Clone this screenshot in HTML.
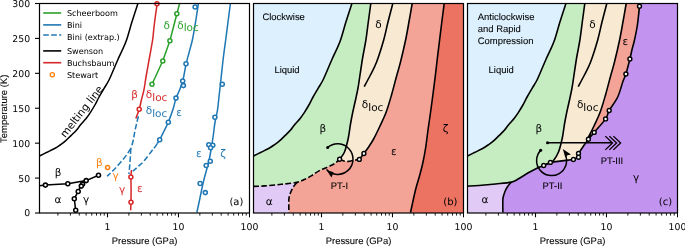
<!DOCTYPE html>
<html><head><meta charset="utf-8"><title>Nitrogen phase diagram</title>
<style>
html,body{margin:0;padding:0;background:#fff;overflow:hidden}
svg{display:block}
text{font-family:"DejaVu Sans","Liberation Sans",sans-serif;text-rendering:geometricPrecision}
.tk{font-size:9.3px}
.lg{font-size:8.1px}
.gk{font-size:10.5px}
.pl{font-size:10px}
.hv{font-family:"Liberation Sans",Arial,sans-serif;font-size:9.45px;stroke:#000;stroke-width:0.08px}
</style></head><body>
<svg width="685" height="246" viewBox="0 0 685 246">
<rect width="685" height="246" fill="#fff"/>
<line x1="35" y1="213" x2="39.5" y2="213" stroke="#000" stroke-width="1.1"/>
<text x="30.1" y="216.45" class="tk" text-anchor="end">0</text>
<line x1="35" y1="178.08" x2="39.5" y2="178.08" stroke="#000" stroke-width="1.1"/>
<text x="30.1" y="181.53" class="tk" text-anchor="end">50</text>
<line x1="35" y1="143.17" x2="39.5" y2="143.17" stroke="#000" stroke-width="1.1"/>
<text x="30.1" y="146.62" class="tk" text-anchor="end">100</text>
<line x1="35" y1="108.25" x2="39.5" y2="108.25" stroke="#000" stroke-width="1.1"/>
<text x="30.1" y="111.7" class="tk" text-anchor="end">150</text>
<line x1="35" y1="73.33" x2="39.5" y2="73.33" stroke="#000" stroke-width="1.1"/>
<text x="30.1" y="76.78" class="tk" text-anchor="end">200</text>
<line x1="35" y1="38.42" x2="39.5" y2="38.42" stroke="#000" stroke-width="1.1"/>
<text x="30.1" y="41.87" class="tk" text-anchor="end">250</text>
<line x1="35" y1="3.5" x2="39.5" y2="3.5" stroke="#000" stroke-width="1.1"/>
<text x="30.1" y="6.95" class="tk" text-anchor="end">300</text>
<text transform="translate(7.0,108.8) rotate(-90)" class="hv" text-anchor="middle">Temperature (K)</text>
<g class="lg">
<line x1="43.2" y1="13" x2="61.2" y2="13" stroke="#2ca02c" stroke-width="1.6"/>
<text x="66.9" y="16.3">Scheerboom</text>
<line x1="43.2" y1="24.9" x2="61.2" y2="24.9" stroke="#1f77b4" stroke-width="1.6"/>
<text x="66.9" y="28.3">Bini</text>
<line x1="43.2" y1="35" x2="61.2" y2="35" stroke="#1f77b4" stroke-width="1.6" stroke-dasharray="5.6,2.4"/>
<text x="66.9" y="39.7">Bini (extrap.)</text>
<line x1="43.2" y1="50.9" x2="61.2" y2="50.9" stroke="#000" stroke-width="1.6"/>
<text x="66.9" y="54.4">Swenson</text>
<line x1="43.2" y1="62.7" x2="61.2" y2="62.7" stroke="#d62728" stroke-width="1.6"/>
<text x="66.9" y="66.4">Buchsbaum</text>
<circle cx="52.3" cy="74.7" r="2.1" fill="#fff" stroke="#ff7f0e" stroke-width="1.3"/>
<text x="66.9" y="78.1">Stewart</text>
</g>
<g clip-path="url(#ca)">
<path d="M137.9,3.5 C136.9,6.58 133.88,15.67 131.9,22 C129.92,28.33 128.37,35.17 126,41.5 C123.63,47.83 120.45,53.75 117.7,60 C114.95,66.25 111.75,74.3 109.5,79 C107.25,83.7 105.98,85.12 104.2,88.2 C102.42,91.28 100.35,94.7 98.8,97.5 C97.25,100.3 96.32,102.48 94.9,105 C93.48,107.52 91.73,110.4 90.3,112.6 C88.87,114.8 87.98,116.08 86.3,118.2 C84.62,120.32 81.82,123.33 80.2,125.3 C78.58,127.27 78.13,128.28 76.6,130 C75.07,131.72 72.9,133.73 71,135.6 C69.1,137.47 67.03,139.63 65.2,141.2 C63.37,142.77 61.77,143.78 60,145 C58.23,146.22 56.77,147.28 54.6,148.5 C52.43,149.72 49.52,151.05 47,152.3 C44.48,153.55 40.75,155.38 39.5,156" fill="none" stroke="#000" stroke-width="1.52" stroke-linejoin="round"/>
<path d="M157.2,3.5 C156.9,5.58 155.95,11.92 155.4,16 C154.85,20.08 154.37,24 153.9,28 C153.43,32 153.35,35 152.6,40 C151.85,45 150.5,51.83 149.4,58 C148.3,64.17 146.9,71.72 146,77 C145.1,82.28 144.77,85.87 144,89.7 C143.23,93.53 142.17,96.83 141.4,100 C140.63,103.17 140.32,105.63 139.4,108.7 C138.48,111.77 136.48,116.78 135.9,118.4" fill="none" stroke="#d62728" stroke-width="1.52" stroke-linejoin="round"/>
<polyline points="131.4,170 130.9,177 131.1,190 131,202.2 130.7,210.3" fill="none" stroke="#d62728" stroke-width="1.52" stroke-linejoin="round"/>
<polyline points="179.6,3.5 176.9,13.7 169.9,40.8 162.7,61 152,84.3" fill="none" stroke="#2ca02c" stroke-width="1.52" stroke-linejoin="round"/>
<path d="M198.4,3.5 C197.98,6.25 196.87,14.08 195.9,20 C194.93,25.92 193.72,33.67 192.6,39 C191.48,44.33 190.27,47.92 189.2,52 C188.13,56.08 187.03,59.83 186.2,63.5 C185.37,67.17 184.78,71.08 184.2,74 C183.62,76.92 183.47,78.33 182.7,81 C181.93,83.67 180.72,87.15 179.6,90 C178.48,92.85 177.03,95.1 176,98.1 C174.97,101.1 174.68,103.98 173.4,108 C172.12,112.02 169.9,118.28 168.3,122.2 C166.7,126.12 165.23,128.57 163.8,131.5 C162.37,134.43 160.8,137.78 159.7,139.8 C158.6,141.82 157.62,142.97 157.2,143.6" fill="none" stroke="#1f77b4" stroke-width="1.52" stroke-linejoin="round"/>
<path d="M230.4,3.5 C230,6.58 228.77,16.08 228,22 C227.23,27.92 226.58,33 225.8,39 C225.02,45 224.07,51.67 223.3,58 C222.53,64.33 221.87,71 221.2,77 C220.53,83 219.92,88.5 219.3,94 C218.68,99.5 218.15,105.67 217.5,110 C216.85,114.33 215.95,117 215.4,120 C214.85,123 214.57,125.33 214.2,128 C213.83,130.67 213.73,132.33 213.2,136 C212.67,139.67 211.67,146.08 211,150 C210.33,153.92 209.85,156.5 209.2,159.5 C208.55,162.5 207.87,165.08 207.1,168 C206.33,170.92 205.33,174.2 204.6,177 C203.87,179.8 203.33,181.97 202.7,184.8 C202.07,187.63 201.47,190.8 200.8,194 C200.13,197.2 199.37,200.92 198.7,204 C198.03,207.08 197.12,211.08 196.8,212.5" fill="none" stroke="#1f77b4" stroke-width="1.52" stroke-linejoin="round"/>
<path d="M157.2,143.6 C156.8,144.2 155.72,145.97 154.8,147.2 C153.88,148.43 153.5,148.72 151.7,151 C149.9,153.28 146.2,158.37 144,160.9 C141.8,163.43 140.37,164.47 138.5,166.2 C136.63,167.93 133.75,170.45 132.8,171.3" fill="none" stroke="#1f77b4" stroke-width="1.52" stroke-dasharray="5.6,2.4" stroke-linejoin="round"/>
<path d="M138.4,116.2 C138.08,117.5 137.1,121.43 136.5,124 C135.9,126.57 135.33,128.93 134.8,131.6 C134.27,134.27 133.8,137.67 133.3,140 C132.8,142.33 132.22,144.2 131.8,145.6 C131.38,147 130.97,147.93 130.8,148.4" fill="none" stroke="#1f77b4" stroke-width="1.52" stroke-dasharray="5.6,2.4" stroke-linejoin="round"/>
<path d="M130.8,148.4 C130.08,149.5 128.3,152.57 126.5,155 C124.7,157.43 122.2,160.45 120,163 C117.8,165.55 115.45,168.08 113.3,170.3 C111.15,172.52 108.13,175.3 107.1,176.3" fill="none" stroke="#1f77b4" stroke-width="1.52" stroke-dasharray="5.6,2.4" stroke-linejoin="round"/>
<polyline points="130.8,148.4 130.3,158 129.4,169.3 128.9,174" fill="none" stroke="#1f77b4" stroke-width="1.52" stroke-dasharray="5.6,2.4" stroke-linejoin="round"/>
<polyline points="39.5,185.8 45.4,185.1 67.8,183.8 86.2,180.6 98.5,175.3" fill="none" stroke="#000" stroke-width="1.52" stroke-linejoin="round"/>
<polyline points="86.2,180.6 83.3,183 80.4,186.9 78.2,191.4 74.3,198.7 75.6,210.2 75.4,212.5" fill="none" stroke="#000" stroke-width="1.52" stroke-linejoin="round"/>
</g>
<circle cx="157" cy="3.8" r="2.0" fill="#fff" stroke="#d62728" stroke-width="1.55"/><circle cx="139.2" cy="109.2" r="2.0" fill="#fff" stroke="#d62728" stroke-width="1.55"/><circle cx="130.9" cy="177" r="2.0" fill="#fff" stroke="#d62728" stroke-width="1.55"/><circle cx="131" cy="202.2" r="2.0" fill="#fff" stroke="#d62728" stroke-width="1.55"/>
<circle cx="176.8" cy="13.7" r="2.0" fill="#fff" stroke="#2ca02c" stroke-width="1.55"/><circle cx="169.9" cy="40.7" r="2.0" fill="#fff" stroke="#2ca02c" stroke-width="1.55"/><circle cx="162.8" cy="60.9" r="2.0" fill="#fff" stroke="#2ca02c" stroke-width="1.55"/><circle cx="152" cy="84.3" r="2.0" fill="#fff" stroke="#2ca02c" stroke-width="1.55"/>
<circle cx="195.1" cy="7" r="2.0" fill="#fff" stroke="#1f77b4" stroke-width="1.55"/><circle cx="186" cy="63.7" r="2.0" fill="#fff" stroke="#1f77b4" stroke-width="1.55"/><circle cx="182.7" cy="81" r="2.0" fill="#fff" stroke="#1f77b4" stroke-width="1.55"/><circle cx="183.4" cy="85.6" r="2.0" fill="#fff" stroke="#1f77b4" stroke-width="1.55"/><circle cx="176" cy="98.1" r="2.0" fill="#fff" stroke="#1f77b4" stroke-width="1.55"/><circle cx="168.3" cy="122.3" r="2.0" fill="#fff" stroke="#1f77b4" stroke-width="1.55"/><circle cx="159.7" cy="139.8" r="2.0" fill="#fff" stroke="#1f77b4" stroke-width="1.55"/>
<circle cx="222.3" cy="84.3" r="2.0" fill="#fff" stroke="#1f77b4" stroke-width="1.55"/><circle cx="214.9" cy="117.3" r="2.0" fill="#fff" stroke="#1f77b4" stroke-width="1.55"/><circle cx="208.8" cy="144.8" r="2.0" fill="#fff" stroke="#1f77b4" stroke-width="1.55"/><circle cx="212.8" cy="145.2" r="2.0" fill="#fff" stroke="#1f77b4" stroke-width="1.55"/><circle cx="210.6" cy="147.7" r="2.0" fill="#fff" stroke="#1f77b4" stroke-width="1.55"/><circle cx="210.3" cy="161.3" r="2.0" fill="#fff" stroke="#1f77b4" stroke-width="1.55"/><circle cx="206.2" cy="165.4" r="2.0" fill="#fff" stroke="#1f77b4" stroke-width="1.55"/><circle cx="200.1" cy="183.4" r="2.0" fill="#fff" stroke="#1f77b4" stroke-width="1.55"/><circle cx="205.3" cy="192.6" r="2.0" fill="#fff" stroke="#1f77b4" stroke-width="1.55"/>
<circle cx="45.4" cy="185.1" r="2.0" fill="#fff" stroke="#000" stroke-width="1.55"/><circle cx="67.8" cy="183.8" r="2.0" fill="#fff" stroke="#000" stroke-width="1.55"/><circle cx="86.2" cy="180.6" r="2.0" fill="#fff" stroke="#000" stroke-width="1.55"/><circle cx="98.5" cy="175.3" r="2.0" fill="#fff" stroke="#000" stroke-width="1.55"/><circle cx="82.6" cy="184.1" r="2.0" fill="#fff" stroke="#000" stroke-width="1.55"/><circle cx="81.3" cy="186.1" r="2.0" fill="#fff" stroke="#000" stroke-width="1.55"/><circle cx="78.2" cy="191.4" r="2.0" fill="#fff" stroke="#000" stroke-width="1.55"/><circle cx="74.3" cy="198.7" r="2.0" fill="#fff" stroke="#000" stroke-width="1.55"/><circle cx="75.7" cy="210.2" r="2.0" fill="#fff" stroke="#000" stroke-width="1.55"/>
<circle cx="107.6" cy="167.4" r="2.0" fill="#fff" stroke="#ff7f0e" stroke-width="1.55"/>
<text x="163.6" y="28.8" class="gk" fill="#2ca02c">δ</text>
<text x="177.2" y="28.7" class="gk" fill="#2ca02c">δ<tspan dy="2.6">loc</tspan></text>
<text x="131.2" y="98" class="gk" fill="#d62728">β</text>
<text x="145.8" y="97.9" class="gk" fill="#d62728">δ<tspan dy="2.6">loc</tspan></text>
<text x="145.7" y="113.9" class="gk" fill="#1f77b4">δ<tspan dy="2.6">loc</tspan></text>
<text x="176.3" y="116.3" class="gk" fill="#1f77b4">ε</text>
<text x="195.9" y="156.7" class="gk" fill="#1f77b4">ε</text>
<text x="220.2" y="157.2" class="gk" fill="#1f77b4">ζ</text>
<text x="95.9" y="166.2" class="gk" fill="#ff7f0e">β</text>
<text x="112.6" y="179" class="gk" fill="#ff7f0e">γ</text>
<text x="54.8" y="176.3" class="gk" fill="#000">β</text>
<text x="54.6" y="202.9" class="gk" fill="#000">α</text>
<text x="82.9" y="203.4" class="gk" fill="#000">γ</text>
<text x="118.9" y="193.4" class="gk" fill="#d62728">γ</text>
<text x="137.1" y="192.3" class="gk" fill="#d62728">ε</text>
<text x="229.4" y="205.4" class="pl">(a)</text>
<text transform="translate(65.2,138.2) rotate(-52)" class="gk" style="font-size:10.5px">melting line</text>
<rect x="39.5" y="3.5" width="210" height="209.5" fill="none" stroke="#000" stroke-width="1.2"/>
<line x1="57.89" y1="213" x2="57.89" y2="215.6" stroke="#000" stroke-width="0.9"/><line x1="70.39" y1="213" x2="70.39" y2="215.6" stroke="#000" stroke-width="0.9"/><line x1="79.25" y1="213" x2="79.25" y2="215.6" stroke="#000" stroke-width="0.9"/><line x1="86.13" y1="213" x2="86.13" y2="215.6" stroke="#000" stroke-width="0.9"/><line x1="91.75" y1="213" x2="91.75" y2="215.6" stroke="#000" stroke-width="0.9"/><line x1="96.51" y1="213" x2="96.51" y2="215.6" stroke="#000" stroke-width="0.9"/><line x1="100.62" y1="213" x2="100.62" y2="215.6" stroke="#000" stroke-width="0.9"/><line x1="104.25" y1="213" x2="104.25" y2="215.6" stroke="#000" stroke-width="0.9"/><line x1="107.5" y1="213" x2="107.5" y2="217.3" stroke="#000" stroke-width="1.1"/><line x1="128.87" y1="213" x2="128.87" y2="215.6" stroke="#000" stroke-width="0.9"/><line x1="141.37" y1="213" x2="141.37" y2="215.6" stroke="#000" stroke-width="0.9"/><line x1="150.23" y1="213" x2="150.23" y2="215.6" stroke="#000" stroke-width="0.9"/><line x1="157.11" y1="213" x2="157.11" y2="215.6" stroke="#000" stroke-width="0.9"/><line x1="162.73" y1="213" x2="162.73" y2="215.6" stroke="#000" stroke-width="0.9"/><line x1="167.49" y1="213" x2="167.49" y2="215.6" stroke="#000" stroke-width="0.9"/><line x1="171.6" y1="213" x2="171.6" y2="215.6" stroke="#000" stroke-width="0.9"/><line x1="175.23" y1="213" x2="175.23" y2="215.6" stroke="#000" stroke-width="0.9"/><line x1="178.48" y1="213" x2="178.48" y2="217.3" stroke="#000" stroke-width="1.1"/><line x1="199.85" y1="213" x2="199.85" y2="215.6" stroke="#000" stroke-width="0.9"/><line x1="212.35" y1="213" x2="212.35" y2="215.6" stroke="#000" stroke-width="0.9"/><line x1="221.21" y1="213" x2="221.21" y2="215.6" stroke="#000" stroke-width="0.9"/><line x1="228.09" y1="213" x2="228.09" y2="215.6" stroke="#000" stroke-width="0.9"/><line x1="233.71" y1="213" x2="233.71" y2="215.6" stroke="#000" stroke-width="0.9"/><line x1="238.47" y1="213" x2="238.47" y2="215.6" stroke="#000" stroke-width="0.9"/><line x1="242.58" y1="213" x2="242.58" y2="215.6" stroke="#000" stroke-width="0.9"/><line x1="246.21" y1="213" x2="246.21" y2="215.6" stroke="#000" stroke-width="0.9"/><line x1="249.5" y1="213" x2="249.5" y2="217.3" stroke="#000" stroke-width="1"/>
<text x="107.5" y="230" class="tk" text-anchor="middle">1</text>
<text x="178.48" y="230" class="tk" text-anchor="middle">10</text>
<text x="249.46" y="230" class="tk" text-anchor="middle">100</text>
<text x="144.5" y="243.6" class="hv" text-anchor="middle">Pressure (GPa)</text>
<clipPath id="cb"><rect x="253.5" y="3.5" width="210" height="209.5"/></clipPath>
<g clip-path="url(#cb)">
<rect x="253.5" y="3.5" width="210" height="209.5" fill="#f4a397"/>
<path d="M444.2,3.5 C443.8,6.58 442.57,15.92 441.8,22 C441.03,28.08 440.33,34 439.6,40 C438.87,46 438.12,52 437.4,58 C436.68,64 436.03,70 435.3,76 C434.57,82 433.78,88 433,94 C432.22,100 431.43,106 430.6,112 C429.77,118 428.83,124 428,130 C427.17,136 426.47,142.5 425.6,148 C424.73,153.5 423.82,158.33 422.8,163 C421.78,167.67 420.72,171.5 419.5,176 C418.28,180.5 417,183.92 415.5,190 C414,196.08 411.33,208.75 410.5,212.5 L464.5,214 L464.5,2.5 Z" fill="#ec7261"/>
<path d="M370.8,2.5 L370.8,3.5 C370.38,6.58 369.12,15.92 368.3,22 C367.48,28.08 366.85,34 365.9,40 C364.95,46 363.63,51.83 362.6,58 C361.57,64.17 360.47,72 359.7,77 C358.93,82 358.7,84.17 358,88 C357.3,91.83 356.37,96 355.5,100 C354.63,104 353.63,108 352.8,112 C351.97,116 351.25,119.67 350.5,124 C349.75,128.33 349.3,133.33 348.3,138 C347.3,142.67 345.95,148.47 344.5,152 C343.05,155.53 340.42,158 339.6,159.2 L339.6,159.2 C340.33,159.5 342.52,160.63 344,161 C345.48,161.37 346.88,161.5 348.5,161.4 C350.12,161.3 351.9,160.73 353.7,160.4 C355.5,160.07 358.37,159.57 359.3,159.4 L363.9,153.5 L363.9,153.5 C364.63,152.5 366.68,149.92 368.3,147.5 C369.92,145.08 371.65,142.58 373.6,139 C375.55,135.42 377.9,130.5 380,126 C382.1,121.5 384.28,117.17 386.2,112 C388.12,106.83 389.77,101 391.5,95 C393.23,89 395.1,81.5 396.6,76 C398.1,70.5 399,68 400.5,62 C402,56 404.13,47 405.6,40 C407.07,33 408.2,26.08 409.3,20 C410.4,13.92 411.72,6.25 412.2,3.5 Z" fill="#f8e9d2"/>
<path d="M351.9,3.5 C350.9,6.58 347.88,15.67 345.9,22 C343.92,28.33 342.37,35.17 340,41.5 C337.63,47.83 334.45,53.75 331.7,60 C328.95,66.25 325.75,74.3 323.5,79 C321.25,83.7 319.98,85.12 318.2,88.2 C316.42,91.28 314.35,94.7 312.8,97.5 C311.25,100.3 310.32,102.48 308.9,105 C307.48,107.52 305.73,110.4 304.3,112.6 C302.87,114.8 301.98,116.08 300.3,118.2 C298.62,120.32 295.82,123.33 294.2,125.3 C292.58,127.27 292.13,128.28 290.6,130 C289.07,131.72 286.9,133.73 285,135.6 C283.1,137.47 281.03,139.63 279.2,141.2 C277.37,142.77 275.77,143.78 274,145 C272.23,146.22 270.77,147.28 268.6,148.5 C266.43,149.72 263.52,151.05 261,152.3 C258.48,153.55 254.75,155.38 253.5,156 L252.5,156 L252.5,186.4 L253.5,186.4 C255.42,186.32 260.32,186.25 265,185.9 C269.68,185.55 276.27,184.88 281.6,184.3 C286.93,183.72 293.1,183.25 297,182.4 C300.9,181.55 302.55,180.33 305,179.2 C307.45,178.07 309.3,177.03 311.7,175.6 C314.1,174.17 316.68,172.07 319.4,170.6 C322.12,169.13 325.45,167.98 328,166.8 C330.55,165.62 332.77,164.77 334.7,163.5 C336.63,162.23 338.78,159.92 339.6,159.2 L339.6,159.2 C340.42,158 343.05,155.53 344.5,152 C345.95,148.47 347.3,142.67 348.3,138 C349.3,133.33 349.75,128.33 350.5,124 C351.25,119.67 351.97,116 352.8,112 C353.63,108 354.63,104 355.5,100 C356.37,96 357.3,91.83 358,88 C358.7,84.17 358.93,82 359.7,77 C360.47,72 361.57,64.17 362.6,58 C363.63,51.83 364.95,46 365.9,40 C366.85,34 367.48,28.08 368.3,22 C369.12,15.92 370.38,6.58 370.8,3.5 L370.8,2.5 Z" fill="#c6ecc2"/>
<path d="M252.5,2.5 L351.9,2.5 L351.9,3.5 C350.9,6.58 347.88,15.67 345.9,22 C343.92,28.33 342.37,35.17 340,41.5 C337.63,47.83 334.45,53.75 331.7,60 C328.95,66.25 325.75,74.3 323.5,79 C321.25,83.7 319.98,85.12 318.2,88.2 C316.42,91.28 314.35,94.7 312.8,97.5 C311.25,100.3 310.32,102.48 308.9,105 C307.48,107.52 305.73,110.4 304.3,112.6 C302.87,114.8 301.98,116.08 300.3,118.2 C298.62,120.32 295.82,123.33 294.2,125.3 C292.58,127.27 292.13,128.28 290.6,130 C289.07,131.72 286.9,133.73 285,135.6 C283.1,137.47 281.03,139.63 279.2,141.2 C277.37,142.77 275.77,143.78 274,145 C272.23,146.22 270.77,147.28 268.6,148.5 C266.43,149.72 263.52,151.05 261,152.3 C258.48,153.55 254.75,155.38 253.5,156 L252.5,156 Z" fill="#dcf0fe"/>
<path d="M252.5,186.4 L253.5,186.4 C255.42,186.32 260.32,186.25 265,185.9 C269.68,185.55 276.27,184.88 281.6,184.3 C286.93,183.72 294.43,182.72 297,182.4 L293.3,187 C292.88,187.83 291.52,190.17 290.8,192 C290.08,193.83 289.33,196 289,198 C288.67,200 288.82,201.58 288.8,204 C288.78,206.42 288.88,211.08 288.9,212.5 L288.9,214 L252.5,214 Z" fill="#e2caf6"/>
<path d="M351.9,3.5 C350.9,6.58 347.88,15.67 345.9,22 C343.92,28.33 342.37,35.17 340,41.5 C337.63,47.83 334.45,53.75 331.7,60 C328.95,66.25 325.75,74.3 323.5,79 C321.25,83.7 319.98,85.12 318.2,88.2 C316.42,91.28 314.35,94.7 312.8,97.5 C311.25,100.3 310.32,102.48 308.9,105 C307.48,107.52 305.73,110.4 304.3,112.6 C302.87,114.8 301.98,116.08 300.3,118.2 C298.62,120.32 295.82,123.33 294.2,125.3 C292.58,127.27 292.13,128.28 290.6,130 C289.07,131.72 286.9,133.73 285,135.6 C283.1,137.47 281.03,139.63 279.2,141.2 C277.37,142.77 275.77,143.78 274,145 C272.23,146.22 270.77,147.28 268.6,148.5 C266.43,149.72 263.52,151.05 261,152.3 C258.48,153.55 254.75,155.38 253.5,156" fill="none" stroke="#000" stroke-width="1.6" stroke-linejoin="round"/>
<path d="M392.8,3.5 C392,6.58 389.52,15.92 388,22 C386.48,28.08 385.6,33.33 383.7,40 C381.8,46.67 378.82,56.17 376.6,62 C374.38,67.83 372.47,70.9 370.4,75 C368.33,79.1 365.23,84.67 364.2,86.6" fill="none" stroke="#000" stroke-width="1.6" stroke-linejoin="round"/>
<path d="M370.8,3.5 C370.38,6.58 369.12,15.92 368.3,22 C367.48,28.08 366.85,34 365.9,40 C364.95,46 363.63,51.83 362.6,58 C361.57,64.17 360.47,72 359.7,77 C358.93,82 358.7,84.17 358,88 C357.3,91.83 356.37,96 355.5,100 C354.63,104 353.63,108 352.8,112 C351.97,116 351.25,119.67 350.5,124 C349.75,128.33 349.3,133.33 348.3,138 C347.3,142.67 345.95,148.47 344.5,152 C343.05,155.53 340.42,158 339.6,159.2" fill="none" stroke="#000" stroke-width="1.6" stroke-linejoin="round"/>
<path d="M412.2,3.5 C411.72,6.25 410.4,13.92 409.3,20 C408.2,26.08 407.07,33 405.6,40 C404.13,47 402,56 400.5,62 C399,68 398.1,70.5 396.6,76 C395.1,81.5 393.23,89 391.5,95 C389.77,101 388.12,106.83 386.2,112 C384.28,117.17 382.1,121.5 380,126 C377.9,130.5 375.55,135.42 373.6,139 C371.65,142.58 369.92,145.08 368.3,147.5 C366.68,149.92 364.63,152.5 363.9,153.5" fill="none" stroke="#000" stroke-width="1.6" stroke-linejoin="round"/>
<path d="M444.2,3.5 C443.8,6.58 442.57,15.92 441.8,22 C441.03,28.08 440.33,34 439.6,40 C438.87,46 438.12,52 437.4,58 C436.68,64 436.03,70 435.3,76 C434.57,82 433.78,88 433,94 C432.22,100 431.43,106 430.6,112 C429.77,118 428.83,124 428,130 C427.17,136 426.47,142.5 425.6,148 C424.73,153.5 423.82,158.33 422.8,163 C421.78,167.67 420.72,171.5 419.5,176 C418.28,180.5 417,183.92 415.5,190 C414,196.08 411.33,208.75 410.5,212.5" fill="none" stroke="#000" stroke-width="1.6" stroke-linejoin="round"/>
<path d="M253.5,186.4 C255.42,186.32 260.32,186.25 265,185.9 C269.68,185.55 276.27,184.88 281.6,184.3 C286.93,183.72 293.1,183.25 297,182.4 C300.9,181.55 302.55,180.33 305,179.2 C307.45,178.07 309.3,177.03 311.7,175.6 C314.1,174.17 316.68,172.07 319.4,170.6 C322.12,169.13 325.45,167.98 328,166.8 C330.55,165.62 332.77,164.77 334.7,163.5 C336.63,162.23 338.78,159.92 339.6,159.2" fill="none" stroke="#000" stroke-width="1.6" stroke-dasharray="5.6,2.4" stroke-linejoin="round"/>
<path d="M297,182.4 C296.38,183.17 294.33,185.4 293.3,187 C292.27,188.6 291.52,190.17 290.8,192 C290.08,193.83 289.33,196 289,198 C288.67,200 288.82,201.58 288.8,204 C288.78,206.42 288.88,211.08 288.9,212.5" fill="none" stroke="#000" stroke-width="1.6" stroke-dasharray="5.6,2.4" stroke-linejoin="round"/>
<path d="M339.6,159.2 C340.33,159.5 342.52,160.63 344,161 C345.48,161.37 346.88,161.5 348.5,161.4 C350.12,161.3 351.9,160.73 353.7,160.4 C355.5,160.07 358.37,159.57 359.3,159.4" fill="none" stroke="#000" stroke-width="1.6" stroke-dasharray="5.6,2.4" stroke-linejoin="round"/>
<polyline points="359.3,159.4 363.9,153.5" fill="none" stroke="#000" stroke-width="1.6" stroke-linejoin="round"/>
<circle cx="339.6" cy="159.2" r="1.95" fill="#fff" stroke="#000" stroke-width="1.45"/><circle cx="359.3" cy="159.4" r="1.95" fill="#fff" stroke="#000" stroke-width="1.45"/><circle cx="363.9" cy="153.5" r="1.95" fill="#fff" stroke="#000" stroke-width="1.45"/>
</g>
<path d="M327.66,147.55 A15.3,15.3 0 1 1 326.51,169.53" fill="none" stroke="#000" stroke-width="1.5"/>
<circle cx="327.66" cy="147.55" r="1.5" fill="#000"/>
<path d="M326.7,170.2 L333.6,172.2 L331.4,177.4 Z" fill="#000"/>
<text x="262.4" y="20" class="hv">Clockwise</text>
<text x="274.4" y="73.3" class="hv">Liquid</text>
<text x="375.2" y="27.9" class="gk" fill="#000">δ</text>
<text x="361.8" y="107.9" class="gk" fill="#000">δ<tspan dy="2.6">loc</tspan></text>
<text x="319.4" y="131.5" class="gk" fill="#000">β</text>
<text x="442.7" y="131.9" class="gk" fill="#000">ζ</text>
<text x="390.9" y="155.1" class="gk" fill="#000">ε</text>
<text x="330.8" y="188.9" class="hv">PT-I</text>
<text x="265.8" y="204.7" class="gk" fill="#000">α</text>
<text x="443.3" y="205.4" class="pl">(b)</text>
<rect x="253.5" y="3.5" width="210" height="209.5" fill="none" stroke="#000" stroke-width="1.2"/>
<line x1="271.89" y1="213" x2="271.89" y2="215.6" stroke="#000" stroke-width="0.9"/><line x1="284.39" y1="213" x2="284.39" y2="215.6" stroke="#000" stroke-width="0.9"/><line x1="293.25" y1="213" x2="293.25" y2="215.6" stroke="#000" stroke-width="0.9"/><line x1="300.13" y1="213" x2="300.13" y2="215.6" stroke="#000" stroke-width="0.9"/><line x1="305.75" y1="213" x2="305.75" y2="215.6" stroke="#000" stroke-width="0.9"/><line x1="310.51" y1="213" x2="310.51" y2="215.6" stroke="#000" stroke-width="0.9"/><line x1="314.62" y1="213" x2="314.62" y2="215.6" stroke="#000" stroke-width="0.9"/><line x1="318.25" y1="213" x2="318.25" y2="215.6" stroke="#000" stroke-width="0.9"/><line x1="321.5" y1="213" x2="321.5" y2="217.3" stroke="#000" stroke-width="1.1"/><line x1="342.87" y1="213" x2="342.87" y2="215.6" stroke="#000" stroke-width="0.9"/><line x1="355.37" y1="213" x2="355.37" y2="215.6" stroke="#000" stroke-width="0.9"/><line x1="364.23" y1="213" x2="364.23" y2="215.6" stroke="#000" stroke-width="0.9"/><line x1="371.11" y1="213" x2="371.11" y2="215.6" stroke="#000" stroke-width="0.9"/><line x1="376.73" y1="213" x2="376.73" y2="215.6" stroke="#000" stroke-width="0.9"/><line x1="381.49" y1="213" x2="381.49" y2="215.6" stroke="#000" stroke-width="0.9"/><line x1="385.6" y1="213" x2="385.6" y2="215.6" stroke="#000" stroke-width="0.9"/><line x1="389.23" y1="213" x2="389.23" y2="215.6" stroke="#000" stroke-width="0.9"/><line x1="392.48" y1="213" x2="392.48" y2="217.3" stroke="#000" stroke-width="1.1"/><line x1="413.85" y1="213" x2="413.85" y2="215.6" stroke="#000" stroke-width="0.9"/><line x1="426.35" y1="213" x2="426.35" y2="215.6" stroke="#000" stroke-width="0.9"/><line x1="435.21" y1="213" x2="435.21" y2="215.6" stroke="#000" stroke-width="0.9"/><line x1="442.09" y1="213" x2="442.09" y2="215.6" stroke="#000" stroke-width="0.9"/><line x1="447.71" y1="213" x2="447.71" y2="215.6" stroke="#000" stroke-width="0.9"/><line x1="452.47" y1="213" x2="452.47" y2="215.6" stroke="#000" stroke-width="0.9"/><line x1="456.58" y1="213" x2="456.58" y2="215.6" stroke="#000" stroke-width="0.9"/><line x1="460.21" y1="213" x2="460.21" y2="215.6" stroke="#000" stroke-width="0.9"/><line x1="463.5" y1="213" x2="463.5" y2="217.3" stroke="#000" stroke-width="1"/>
<text x="321.5" y="230" class="tk" text-anchor="middle">1</text>
<text x="392.48" y="230" class="tk" text-anchor="middle">10</text>
<text x="463.46" y="230" class="tk" text-anchor="middle">100</text>
<text x="358.5" y="243.6" class="hv" text-anchor="middle">Pressure (GPa)</text>
<clipPath id="cc"><rect x="467.5" y="3.5" width="210" height="209.5"/></clipPath>
<g clip-path="url(#cc)">
<rect x="467.5" y="3.5" width="210" height="209.5" fill="#c393f0"/>
<path d="M626.2,2.5 L626.2,3.5 C625.72,6.25 624.4,13.92 623.3,20 C622.2,26.08 621.07,33 619.6,40 C618.13,47 616,56 614.5,62 C613,68 612.1,70.5 610.6,76 C609.1,81.5 607.23,89 605.5,95 C603.77,101 602.12,106.83 600.2,112 C598.28,117.17 596.1,121.5 594,126 C591.9,130.5 588.67,136.83 587.6,139 L591,134 L588.4,139.2 C589.37,138.07 591.33,135.78 594.2,132.4 C597.07,129.02 603.1,122.55 605.6,118.9 C608.1,115.25 607.18,114.15 609.2,110.5 C611.22,106.85 615.4,101.88 617.7,97 C620,92.12 621.63,85.03 623,81.2 C624.37,77.37 624.75,77.7 625.9,74 C627.05,70.3 628.9,63 629.9,59 C630.9,55 631.13,53.17 631.9,50 C632.67,46.83 633.58,44.17 634.5,40 C635.42,35.83 636.57,30.63 637.4,25 C638.23,19.37 639.13,9.87 639.5,6.2 C639.87,2.53 639.58,3.53 639.6,3 Z" fill="#f4a397"/>
<path d="M584.8,2.5 L584.8,3.5 C584.38,6.58 583.12,15.92 582.3,22 C581.48,28.08 580.85,34 579.9,40 C578.95,46 577.63,51.83 576.6,58 C575.57,64.17 574.47,72 573.7,77 C572.93,82 572.7,84.17 572,88 C571.3,91.83 570.37,96 569.5,100 C568.63,104 567.63,108 566.8,112 C565.97,116 565.25,119.67 564.5,124 C563.75,128.33 563.3,133.33 562.3,138 C561.3,142.67 559.97,148.25 558.5,152 C557.03,155.75 554.85,158.77 553.5,160.5 C552.15,162.23 550.92,162.08 550.4,162.4 L550.4,162.4 L556,161.6 L564,160.6 L573.4,159.5 L578.5,157.2 L578.5,153.5 L583.5,146 L588.4,139.2 L591,134 L587.6,139 C588.67,136.83 591.9,130.5 594,126 C596.1,121.5 598.28,117.17 600.2,112 C602.12,106.83 603.77,101 605.5,95 C607.23,89 609.1,81.5 610.6,76 C612.1,70.5 613,68 614.5,62 C616,56 618.13,47 619.6,40 C621.07,33 622.2,26.08 623.3,20 C624.4,13.92 625.72,6.25 626.2,3.5 Z" fill="#f8e9d2"/>
<path d="M565.9,3.5 C564.9,6.58 561.88,15.67 559.9,22 C557.92,28.33 556.37,35.17 554,41.5 C551.63,47.83 548.45,53.75 545.7,60 C542.95,66.25 539.75,74.3 537.5,79 C535.25,83.7 533.98,85.12 532.2,88.2 C530.42,91.28 528.35,94.7 526.8,97.5 C525.25,100.3 524.32,102.48 522.9,105 C521.48,107.52 519.73,110.4 518.3,112.6 C516.87,114.8 515.98,116.08 514.3,118.2 C512.62,120.32 509.82,123.33 508.2,125.3 C506.58,127.27 506.13,128.28 504.6,130 C503.07,131.72 500.9,133.73 499,135.6 C497.1,137.47 495.03,139.63 493.2,141.2 C491.37,142.77 489.77,143.78 488,145 C486.23,146.22 484.77,147.28 482.6,148.5 C480.43,149.72 477.52,151.05 475,152.3 C472.48,153.55 468.75,155.38 467.5,156 L466.5,156 L466.5,186.1 L467.5,186.1 C469.42,186 474.32,185.85 479,185.5 C483.68,185.15 490.2,184.57 495.6,184 C501,183.43 507.5,183.02 511.4,182.1 C515.3,181.18 516.1,180.1 519,178.5 C521.9,176.9 525.97,174.12 528.8,172.5 C531.63,170.88 533.52,169.97 536,168.8 C538.48,167.63 541.3,166.57 543.7,165.5 C546.1,164.43 549.28,162.92 550.4,162.4 L550.4,162.4 C550.92,162.08 552.15,162.23 553.5,160.5 C554.85,158.77 557.03,155.75 558.5,152 C559.97,148.25 561.3,142.67 562.3,138 C563.3,133.33 563.75,128.33 564.5,124 C565.25,119.67 565.97,116 566.8,112 C567.63,108 568.63,104 569.5,100 C570.37,96 571.3,91.83 572,88 C572.7,84.17 572.93,82 573.7,77 C574.47,72 575.57,64.17 576.6,58 C577.63,51.83 578.95,46 579.9,40 C580.85,34 581.48,28.08 582.3,22 C583.12,15.92 584.38,6.58 584.8,3.5 L584.8,2.5 Z" fill="#c6ecc2"/>
<path d="M466.5,2.5 L565.9,2.5 L565.9,3.5 C564.9,6.58 561.88,15.67 559.9,22 C557.92,28.33 556.37,35.17 554,41.5 C551.63,47.83 548.45,53.75 545.7,60 C542.95,66.25 539.75,74.3 537.5,79 C535.25,83.7 533.98,85.12 532.2,88.2 C530.42,91.28 528.35,94.7 526.8,97.5 C525.25,100.3 524.32,102.48 522.9,105 C521.48,107.52 519.73,110.4 518.3,112.6 C516.87,114.8 515.98,116.08 514.3,118.2 C512.62,120.32 509.82,123.33 508.2,125.3 C506.58,127.27 506.13,128.28 504.6,130 C503.07,131.72 500.9,133.73 499,135.6 C497.1,137.47 495.03,139.63 493.2,141.2 C491.37,142.77 489.77,143.78 488,145 C486.23,146.22 484.77,147.28 482.6,148.5 C480.43,149.72 477.52,151.05 475,152.3 C472.48,153.55 468.75,155.38 467.5,156 L466.5,156 Z" fill="#dcf0fe"/>
<path d="M466.5,186.1 L467.5,186.1 C469.42,186 474.32,185.85 479,185.5 C483.68,185.15 490.2,184.57 495.6,184 C501,183.43 508.77,182.42 511.4,182.1 L507.3,187 C506.88,187.83 505.52,190.17 504.8,192 C504.08,193.83 503.33,196 503,198 C502.67,200 502.82,201.58 502.8,204 C502.78,206.42 502.88,211.08 502.9,212.5 L502.9,214 L466.5,214 Z" fill="#e2caf6"/>
<path d="M565.9,3.5 C564.9,6.58 561.88,15.67 559.9,22 C557.92,28.33 556.37,35.17 554,41.5 C551.63,47.83 548.45,53.75 545.7,60 C542.95,66.25 539.75,74.3 537.5,79 C535.25,83.7 533.98,85.12 532.2,88.2 C530.42,91.28 528.35,94.7 526.8,97.5 C525.25,100.3 524.32,102.48 522.9,105 C521.48,107.52 519.73,110.4 518.3,112.6 C516.87,114.8 515.98,116.08 514.3,118.2 C512.62,120.32 509.82,123.33 508.2,125.3 C506.58,127.27 506.13,128.28 504.6,130 C503.07,131.72 500.9,133.73 499,135.6 C497.1,137.47 495.03,139.63 493.2,141.2 C491.37,142.77 489.77,143.78 488,145 C486.23,146.22 484.77,147.28 482.6,148.5 C480.43,149.72 477.52,151.05 475,152.3 C472.48,153.55 468.75,155.38 467.5,156" fill="none" stroke="#000" stroke-width="1.6" stroke-linejoin="round"/>
<path d="M606.8,3.5 C606,6.58 603.52,15.92 602,22 C600.48,28.08 599.6,33.33 597.7,40 C595.8,46.67 592.82,56.17 590.6,62 C588.38,67.83 586.47,70.9 584.4,75 C582.33,79.1 579.23,84.67 578.2,86.6" fill="none" stroke="#000" stroke-width="1.6" stroke-linejoin="round"/>
<path d="M584.8,3.5 C584.38,6.58 583.12,15.92 582.3,22 C581.48,28.08 580.85,34 579.9,40 C578.95,46 577.63,51.83 576.6,58 C575.57,64.17 574.47,72 573.7,77 C572.93,82 572.7,84.17 572,88 C571.3,91.83 570.37,96 569.5,100 C568.63,104 567.63,108 566.8,112 C565.97,116 565.25,119.67 564.5,124 C563.75,128.33 563.3,133.33 562.3,138 C561.3,142.67 559.97,148.25 558.5,152 C557.03,155.75 554.85,158.77 553.5,160.5 C552.15,162.23 550.92,162.08 550.4,162.4" fill="none" stroke="#000" stroke-width="1.6" stroke-linejoin="round"/>
<path d="M626.2,3.5 C625.72,6.25 624.4,13.92 623.3,20 C622.2,26.08 621.07,33 619.6,40 C618.13,47 616,56 614.5,62 C613,68 612.1,70.5 610.6,76 C609.1,81.5 607.23,89 605.5,95 C603.77,101 602.12,106.83 600.2,112 C598.28,117.17 596.1,121.5 594,126 C591.9,130.5 588.1,137.67 587.6,139 C587.1,140.33 590.43,134.83 591,134" fill="none" stroke="#000" stroke-width="1.6" stroke-linejoin="round"/>
<path d="M639.6,3 C639.58,3.53 639.87,2.53 639.5,6.2 C639.13,9.87 638.23,19.37 637.4,25 C636.57,30.63 635.42,35.83 634.5,40 C633.58,44.17 632.67,46.83 631.9,50 C631.13,53.17 630.9,55 629.9,59 C628.9,63 627.05,70.3 625.9,74 C624.75,77.7 624.37,77.37 623,81.2 C621.63,85.03 620,92.12 617.7,97 C615.4,101.88 611.22,106.85 609.2,110.5 C607.18,114.15 608.1,115.25 605.6,118.9 C603.1,122.55 597.07,129.02 594.2,132.4 C591.33,135.78 589.37,138.07 588.4,139.2" fill="none" stroke="#000" stroke-width="1.6" stroke-linejoin="round"/>
<polyline points="588.4,139.2 583.5,146 578.5,153.5 578.5,157.2 573.4,159.5 564,160.6 556,161.6 550.4,162.4" fill="none" stroke="#000" stroke-width="1.6" stroke-linejoin="round"/>
<path d="M467.5,186.1 C469.42,186 474.32,185.85 479,185.5 C483.68,185.15 490.2,184.57 495.6,184 C501,183.43 507.5,183.02 511.4,182.1 C515.3,181.18 516.1,180.1 519,178.5 C521.9,176.9 525.97,174.12 528.8,172.5 C531.63,170.88 533.52,169.97 536,168.8 C538.48,167.63 541.3,166.57 543.7,165.5 C546.1,164.43 549.28,162.92 550.4,162.4" fill="none" stroke="#000" stroke-width="1.6" stroke-linejoin="round"/>
<path d="M511,182.4 C510.38,183.17 508.33,185.4 507.3,187 C506.27,188.6 505.52,190.17 504.8,192 C504.08,193.83 503.33,196 503,198 C502.67,200 502.82,201.58 502.8,204 C502.78,206.42 502.88,211.08 502.9,212.5" fill="none" stroke="#000" stroke-width="1.6" stroke-linejoin="round"/>
<polyline points="543.7,165.5 550.4,162.4" fill="none" stroke="#000" stroke-width="1.6" stroke-linejoin="round"/>
<circle cx="639.5" cy="6.2" r="1.95" fill="#fff" stroke="#000" stroke-width="1.45"/><circle cx="629.9" cy="59" r="1.95" fill="#fff" stroke="#000" stroke-width="1.45"/><circle cx="625.9" cy="74" r="1.95" fill="#fff" stroke="#000" stroke-width="1.45"/><circle cx="609.2" cy="110.5" r="1.95" fill="#fff" stroke="#000" stroke-width="1.45"/><circle cx="605.6" cy="118.9" r="1.95" fill="#fff" stroke="#000" stroke-width="1.45"/><circle cx="594.2" cy="132.4" r="1.95" fill="#fff" stroke="#000" stroke-width="1.45"/><circle cx="588.4" cy="139.2" r="1.95" fill="#fff" stroke="#000" stroke-width="1.45"/><circle cx="578.5" cy="153.5" r="1.95" fill="#fff" stroke="#000" stroke-width="1.45"/><circle cx="578.5" cy="157.2" r="1.95" fill="#fff" stroke="#000" stroke-width="1.45"/><circle cx="573.4" cy="159.5" r="1.95" fill="#fff" stroke="#000" stroke-width="1.45"/><circle cx="550.4" cy="162.4" r="1.95" fill="#fff" stroke="#000" stroke-width="1.45"/><circle cx="543.7" cy="165.5" r="1.95" fill="#fff" stroke="#000" stroke-width="1.45"/>
</g>
<line x1="547.5" y1="142.8" x2="612" y2="142.8" stroke="#000" stroke-width="1.5"/>
<circle cx="547.5" cy="142.8" r="1.5" fill="#000"/>
<polyline points="605.3,136.1 612.5,143 605.3,149.9" fill="none" stroke="#000" stroke-width="1.3"/>
<polyline points="609.35,136.1 616.55,143 609.35,149.9" fill="none" stroke="#000" stroke-width="1.3"/>
<polyline points="613.4,136.1 620.6,143 613.4,149.9" fill="none" stroke="#000" stroke-width="1.3"/>
<path d="M540.63,150.37 A15.0,15.0 0 1 0 565.51,154.98" fill="none" stroke="#000" stroke-width="1.5"/>
<circle cx="540.63" cy="150.37" r="1.6" fill="#000"/>
<path d="M562.8,149.1 L571,154.6 L567.4,155.2 L565.3,157.6 Z" fill="#000"/>
<text x="477.8" y="19.7" class="hv">Anticlockwise</text>
<text x="477.8" y="31.7" class="hv">and Rapid</text>
<text x="477.8" y="43.7" class="hv">Compression</text>
<text x="488.6" y="73.3" class="hv">Liquid</text>
<text x="589.2" y="27.9" class="gk" fill="#000">δ</text>
<text x="622.4" y="44.8" class="gk" fill="#000">ε</text>
<text x="576.9" y="107.9" class="gk" fill="#000">δ<tspan dy="2.6">loc</tspan></text>
<text x="535.4" y="132.3" class="gk" fill="#000">β</text>
<text x="600.7" y="164.1" class="hv">PT-III</text>
<text x="633" y="180.8" class="gk" fill="#000">γ</text>
<text x="542.5" y="188.9" class="hv">PT-II</text>
<text x="481.6" y="203.2" class="gk" fill="#000">α</text>
<text x="658.8" y="205.4" class="pl">(c)</text>
<rect x="467.5" y="3.5" width="210" height="209.5" fill="none" stroke="#000" stroke-width="1.2"/>
<line x1="485.89" y1="213" x2="485.89" y2="215.6" stroke="#000" stroke-width="0.9"/><line x1="498.39" y1="213" x2="498.39" y2="215.6" stroke="#000" stroke-width="0.9"/><line x1="507.25" y1="213" x2="507.25" y2="215.6" stroke="#000" stroke-width="0.9"/><line x1="514.13" y1="213" x2="514.13" y2="215.6" stroke="#000" stroke-width="0.9"/><line x1="519.75" y1="213" x2="519.75" y2="215.6" stroke="#000" stroke-width="0.9"/><line x1="524.51" y1="213" x2="524.51" y2="215.6" stroke="#000" stroke-width="0.9"/><line x1="528.62" y1="213" x2="528.62" y2="215.6" stroke="#000" stroke-width="0.9"/><line x1="532.25" y1="213" x2="532.25" y2="215.6" stroke="#000" stroke-width="0.9"/><line x1="535.5" y1="213" x2="535.5" y2="217.3" stroke="#000" stroke-width="1.1"/><line x1="556.87" y1="213" x2="556.87" y2="215.6" stroke="#000" stroke-width="0.9"/><line x1="569.37" y1="213" x2="569.37" y2="215.6" stroke="#000" stroke-width="0.9"/><line x1="578.23" y1="213" x2="578.23" y2="215.6" stroke="#000" stroke-width="0.9"/><line x1="585.11" y1="213" x2="585.11" y2="215.6" stroke="#000" stroke-width="0.9"/><line x1="590.73" y1="213" x2="590.73" y2="215.6" stroke="#000" stroke-width="0.9"/><line x1="595.49" y1="213" x2="595.49" y2="215.6" stroke="#000" stroke-width="0.9"/><line x1="599.6" y1="213" x2="599.6" y2="215.6" stroke="#000" stroke-width="0.9"/><line x1="603.23" y1="213" x2="603.23" y2="215.6" stroke="#000" stroke-width="0.9"/><line x1="606.48" y1="213" x2="606.48" y2="217.3" stroke="#000" stroke-width="1.1"/><line x1="627.85" y1="213" x2="627.85" y2="215.6" stroke="#000" stroke-width="0.9"/><line x1="640.35" y1="213" x2="640.35" y2="215.6" stroke="#000" stroke-width="0.9"/><line x1="649.21" y1="213" x2="649.21" y2="215.6" stroke="#000" stroke-width="0.9"/><line x1="656.09" y1="213" x2="656.09" y2="215.6" stroke="#000" stroke-width="0.9"/><line x1="661.71" y1="213" x2="661.71" y2="215.6" stroke="#000" stroke-width="0.9"/><line x1="666.47" y1="213" x2="666.47" y2="215.6" stroke="#000" stroke-width="0.9"/><line x1="670.58" y1="213" x2="670.58" y2="215.6" stroke="#000" stroke-width="0.9"/><line x1="674.21" y1="213" x2="674.21" y2="215.6" stroke="#000" stroke-width="0.9"/><line x1="677.5" y1="213" x2="677.5" y2="217.3" stroke="#000" stroke-width="1"/>
<text x="535.5" y="230" class="tk" text-anchor="middle">1</text>
<text x="606.48" y="230" class="tk" text-anchor="middle">10</text>
<text x="677.46" y="230" class="tk" text-anchor="middle">100</text>
<text x="572.5" y="243.6" class="hv" text-anchor="middle">Pressure (GPa)</text>
<defs><clipPath id="ca"><rect x="39.5" y="3.5" width="210" height="209.5"/></clipPath></defs>
</svg>
</body></html>
